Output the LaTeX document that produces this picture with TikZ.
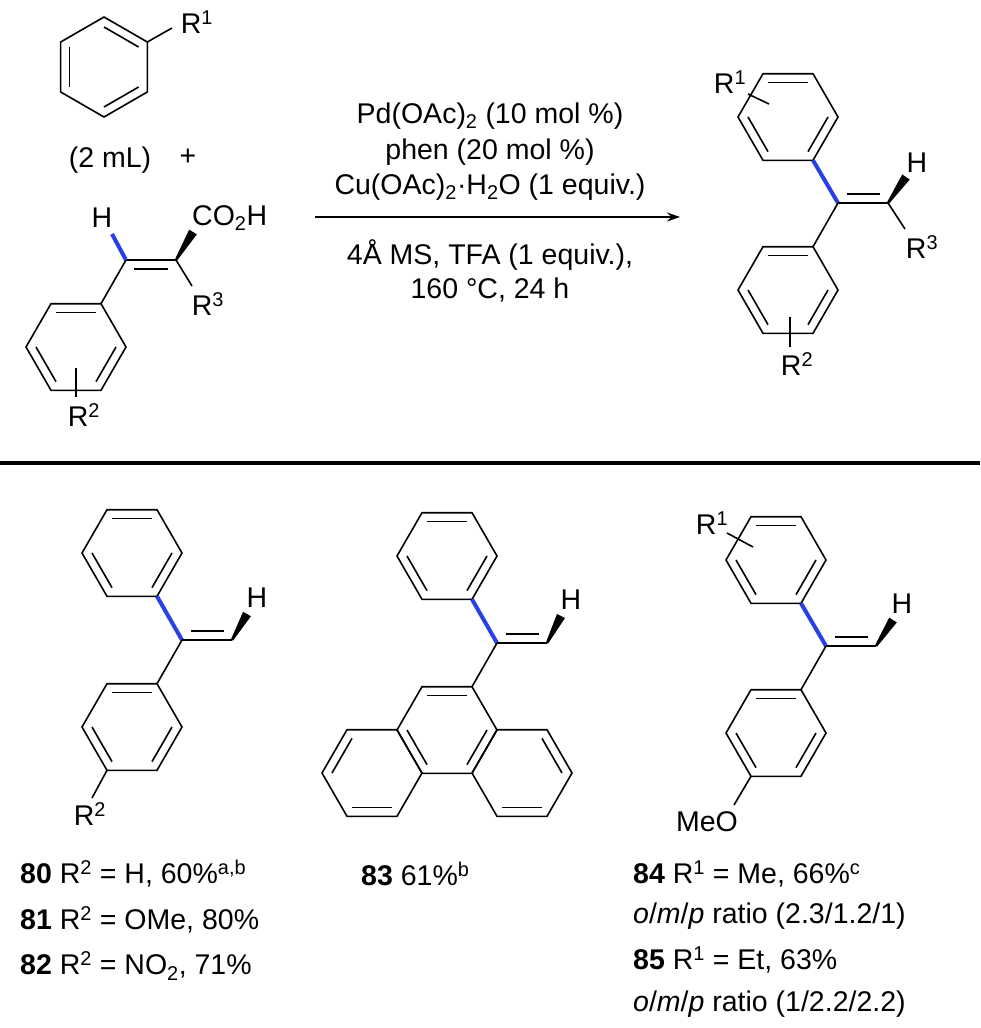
\documentclass[tikz,border=0pt]{standalone}
\usepackage{fontspec}
\setmainfont{Liberation Sans}
\usetikzlibrary{calc,arrows.meta}
\definecolor{bondblue}{RGB}{40,64,232}
\tikzset{
  bond/.style={line width=1.6pt,line join=miter},
  bluebond/.style={line width=4pt,draw=bondblue},
  lbl/.style={inner sep=0pt,font=\fontsize{28.5}{32}\selectfont},
}
\newcommand\hexring[4]{%
  \coordinate (#1c) at (#2,#3);
  \foreach \i in {1,...,6}{\coordinate (#1\i) at ($(#2,#3)+({50*cos(#4+60*(\i-1))},{50*sin(#4+60*(\i-1))})$);}
  \draw[bond] (#11)--(#12)--(#13)--(#14)--(#15)--(#16)--cycle;}
\newcommand\inb[3]{\draw[bond] ($(#1#2)!0.2!(#1c)$) -- ($(#1#3)!0.2!(#1c)$);}
\newcommand\wedgebond[2]{\fill ($(#1)!1.2pt!90:(#2)$) -- ($(#2)!4.5pt!-90:(#1)$) -- ($(#2)!4.5pt!90:(#1)$) -- ($(#1)!1.2pt!-90:(#2)$) -- cycle;}
\begin{document}
\begin{tikzpicture}[x=1pt,y=-1pt]
\useasboundingbox (0,0) rectangle (980,1028);
% ---------- reactant 1
\hexring{a}{104}{67}{30}
\inb{a}{3}{4}\inb{a}{5}{6}\inb{a}{1}{2}
\node[lbl] (aR) at (197,22) {R\textsuperscript{1}};
\coordinate (aRe) at (172,28);
\draw[bond] (a6) -- (aRe);
\node[lbl] (vol) at (110,160) {(2 mL)};
\node[lbl] (plus) at (188,157) {+};
% ---------- reactant 2
\hexring{b}{76}{347}{0}
\inb{b}{5}{6}\inb{b}{4}{3}\inb{b}{1}{2}
\coordinate (bC1) at (126,260);
\coordinate (bC2) at (176,260);
\draw[bond] (b6) -- (bC1) -- (bC2);
\draw[bond] ($(bC1)+(8,9)$) -- ($(bC2)+(-8,9)$);
\node[lbl] (bH) at (102,218) {H};
\coordinate (bHe) at (112,234);
\draw[bluebond] (bHe) -- (bC1);
\coordinate (bCOe) at (193,232);
\wedgebond{bC2}{bCOe}
\node[lbl,anchor=west] (bCO) at (192,218) {CO\textsubscript{2}H};
\coordinate (bR3e) at (192,286);
\draw[bond] (bC2) -- (bR3e);
\node[lbl] (bR3) at (208,304) {R\textsuperscript{3}};
\coordinate (bR2s) at (76,368);
\coordinate (bR2e) at (76,397);
\draw[bond] (bR2s) -- (bR2e);
\node[lbl] (bR2) at (84,415) {R\textsuperscript{2}};
% ---------- arrow and conditions
\coordinate (arL) at (315,217);
\coordinate (arR) at (680,217);
\draw[line width=1.5pt,-{Stealth[length=13pt,width=9pt]}] (arL) -- (arR);
\node[lbl] (c1) at (490,116) {Pd(OAc)\textsubscript{2} (10 mol \%)};
\node[lbl] (c2) at (490,152) {phen (20 mol \%)};
\node[lbl] (c3) at (490,187) {Cu(OAc)\textsubscript{2}·H\textsubscript{2}O (1 equiv.)};
\node[lbl] (c4) at (490,255) {4Å MS, TFA (1 equiv.),};
\node[lbl] (c5) at (490,290) {160 °C, 24 h};
% ---------- product
\hexring{p}{788}{117}{0}
\hexring{q}{788}{290}{0}
\inb{p}{5}{6}\inb{p}{4}{3}\inb{p}{1}{2}
\inb{q}{5}{6}\inb{q}{4}{3}\inb{q}{1}{2}
\coordinate (pC1) at (838,203);
\coordinate (pC2) at (888,203);
\draw[bluebond] (p2) -- (pC1);
\draw[bond] (pC1) -- (q6);
\draw[bond] (pC1) -- (pC2);
\draw[bond] ($(pC1)+(9,-9)$) -- ($(pC2)+(-8,-9)$);
\coordinate (pHe) at (906,177);
\wedgebond{pC2}{pHe}
\node[lbl] (pH) at (917,163) {H};
\coordinate (pR3e) at (905,229);
\draw[bond] (pC2) -- (pR3e);
\node[lbl] (pR3) at (922,247) {R\textsuperscript{3}};
\node[lbl] (pR1) at (730,82) {R\textsuperscript{1}};
\coordinate (pR1s) at (748,94);
\coordinate (pR1e) at (769,104);
\draw[bond] (pR1s) -- (pR1e);
\coordinate (pR2s) at (790,317);
\coordinate (pR2e) at (790,347);
\draw[bond] (pR2s) -- (pR2e);
\node[lbl] (pR2) at (797,364) {R\textsuperscript{2}};
% ---------- separator
\coordinate (sepL) at (0,463);
\coordinate (sepR) at (980,463);
\draw[line width=4.5pt] (sepL) -- (sepR);
% ---------- 80-82
\hexring{e}{132}{553}{0}
\hexring{f}{132}{727}{0}
\inb{e}{5}{6}\inb{e}{4}{3}\inb{e}{1}{2}
\inb{f}{5}{6}\inb{f}{4}{3}\inb{f}{1}{2}
\coordinate (eC1) at (182,640);
\coordinate (eC2) at (232,640);
\draw[bluebond] (e2) -- (eC1);
\draw[bond] (eC1) -- (f6);
\draw[bond] (eC1) -- (eC2);
\draw[bond] ($(eC1)+(9,-9)$) -- ($(eC2)+(-8,-9)$);
\coordinate (eHe) at (247,614);
\wedgebond{eC2}{eHe}
\node[lbl] (eH) at (257,598) {H};
\coordinate (fR2e) at (92,798);
\draw[bond] (f3) -- (fR2e);
\node[lbl] (fR2) at (90,814) {R\textsuperscript{2}};
% ---------- 83
\hexring{g}{447}{556}{0}
\hexring{m}{447}{730}{0}
\hexring{l}{372}{773}{0}
\hexring{r}{522}{773}{0}
\inb{g}{5}{6}\inb{g}{4}{3}\inb{g}{1}{2}
\inb{m}{5}{6}\inb{m}{4}{3}\inb{m}{1}{2}
\inb{l}{4}{5}\inb{l}{2}{3}
\inb{r}{6}{1}\inb{r}{2}{3}
\coordinate (gC1) at (497,643);
\coordinate (gC2) at (547,643);
\draw[bluebond] (g2) -- (gC1);
\draw[bond] (gC1) -- (m6);
\draw[bond] (gC1) -- (gC2);
\draw[bond] ($(gC1)+(9,-9)$) -- ($(gC2)+(-8,-9)$);
\coordinate (gHe) at (561,616);
\wedgebond{gC2}{gHe}
\node[lbl] (gH) at (571,600) {H};
% ---------- 84-85
\hexring{h}{776}{560}{0}
\hexring{k}{776}{733}{0}
\inb{h}{5}{6}\inb{h}{4}{3}\inb{h}{1}{2}
\inb{k}{5}{6}\inb{k}{4}{3}\inb{k}{1}{2}
\coordinate (hC1) at (826,646);
\coordinate (hC2) at (876,646);
\draw[bluebond] (h2) -- (hC1);
\draw[bond] (hC1) -- (k6);
\draw[bond] (hC1) -- (hC2);
\draw[bond] ($(hC1)+(9,-9)$) -- ($(hC2)+(-8,-9)$);
\coordinate (hHe) at (893,620);
\wedgebond{hC2}{hHe}
\node[lbl] (hH) at (902,604) {H};
\node[lbl] (hR1) at (712,523) {R\textsuperscript{1}};
\coordinate (hR1s) at (727,533);
\coordinate (hR1e) at (753,547);
\draw[bond] (hR1s) -- (hR1e);
\coordinate (kOe) at (734,805);
\draw[bond] (k3) -- (kOe);
\node[lbl] (kMeO) at (707,822) {MeO};
% ---------- captions
\node[lbl,anchor=west] (t80) at (20,874) {\textbf{80} R\textsuperscript{2} = H, 60\%\textsuperscript{a,b}};
\node[lbl,anchor=west] (t81) at (20,920) {\textbf{81} R\textsuperscript{2} = OMe, 80\%};
\node[lbl,anchor=west] (t82) at (20,966) {\textbf{82} R\textsuperscript{2} = NO\textsubscript{2}, 71\%};
\node[lbl,anchor=west] (t83) at (361,874) {\textbf{83} 61\%\textsuperscript{b}};
\node[lbl,anchor=west] (t84) at (633,874) {\textbf{84} R\textsuperscript{1} = Me, 66\%\textsuperscript{c}};
\node[lbl,anchor=west] (t84r) at (633,916) {\textit{o}/\textit{m}/\textit{p} ratio (2.3/1.2/1)};
\node[lbl,anchor=west] (t85) at (633,960) {\textbf{85} R\textsuperscript{1} = Et, 63\%};
\node[lbl,anchor=west] (t85r) at (633,1004) {\textit{o}/\textit{m}/\textit{p} ratio (1/2.2/2.2)};
\end{tikzpicture}
\end{document}
